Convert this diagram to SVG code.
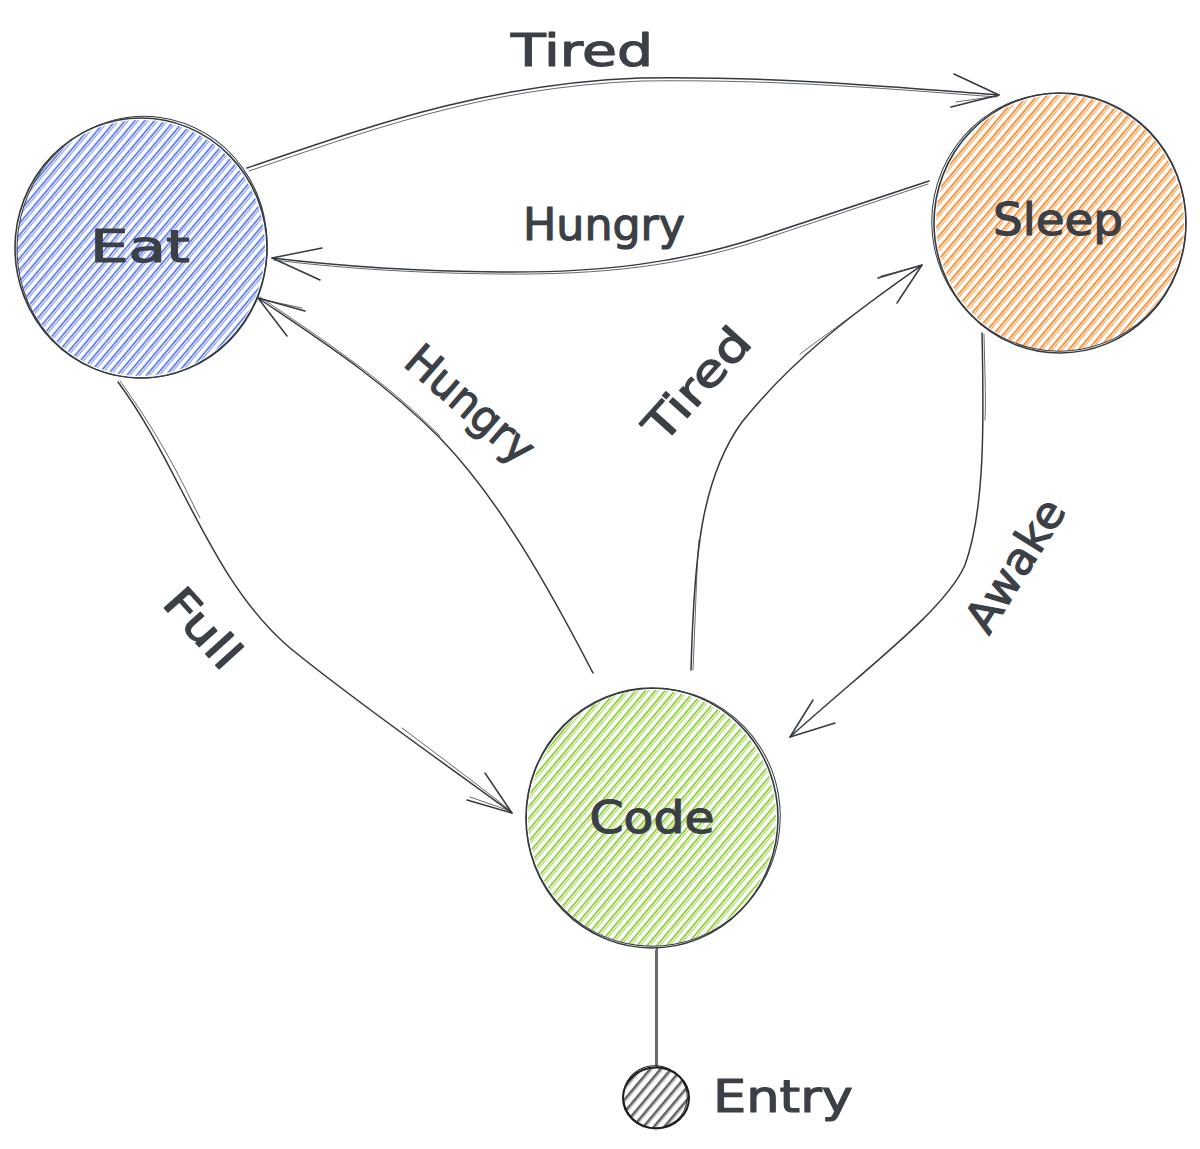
<svg xmlns="http://www.w3.org/2000/svg" width="1200" height="1149" viewBox="0 0 1200 1149">
<defs>
<style>
.o1{fill:none;stroke:#343a40;stroke-width:1.6}
.o2{fill:none;stroke:#343a40;stroke-width:1}
.ln{fill:none;stroke:#343a40;stroke-width:1.5;stroke-linecap:round;stroke-linejoin:round}
.ln2{fill:none;stroke:#343a40;stroke-width:0.9;stroke-linecap:round;stroke-linejoin:round;opacity:0.85}
.t{font-family:"DejaVu Sans","Liberation Sans",sans-serif;font-size:44px;fill:#3b4047;stroke:#3b4047;stroke-width:1.2;stroke-linejoin:round;text-anchor:middle}
.te{font-family:"DejaVu Sans","Liberation Sans",sans-serif;font-size:44px;fill:#3b4047;stroke:#3b4047;stroke-width:1.2;stroke-linejoin:round}
</style>
<pattern id="hBlue" patternUnits="userSpaceOnUse" width="7.5" height="20" patternTransform="rotate(40)">
<line x1="1" y1="0" x2="1" y2="20" stroke="#4c6ef5" stroke-width="1.6"/>
<line x1="3.4" y1="0" x2="3.4" y2="20" stroke="#4c6ef5" stroke-width="1" opacity="0.8"/>
</pattern>
<pattern id="hOrange" patternUnits="userSpaceOnUse" width="7.5" height="20" patternTransform="rotate(40)">
<line x1="1" y1="0" x2="1" y2="20" stroke="#fd7e14" stroke-width="1.6"/>
<line x1="3.4" y1="0" x2="3.4" y2="20" stroke="#fd7e14" stroke-width="1" opacity="0.8"/>
</pattern>
<pattern id="hGreen" patternUnits="userSpaceOnUse" width="7.5" height="20" patternTransform="rotate(40)">
<line x1="1" y1="0" x2="1" y2="20" stroke="#82c91e" stroke-width="1.6"/>
<line x1="3.4" y1="0" x2="3.4" y2="20" stroke="#82c91e" stroke-width="1" opacity="0.8"/>
</pattern>
<pattern id="hBlack" patternUnits="userSpaceOnUse" width="8" height="20" patternTransform="rotate(40)">
<line x1="1" y1="0" x2="1" y2="20" stroke="#1e1e1e" stroke-width="1.4"/>
<line x1="2.8" y1="0" x2="2.8" y2="20" stroke="#1e1e1e" stroke-width="0.8" opacity="0.7"/>
</pattern>
</defs>
<rect width="1200" height="1149" fill="#ffffff"/>

<g id="connectors">
<!-- Eat -> Sleep : Tired -->
<path class="ln" d="M247,168 C360,130 480,84 640,78 C780,76 900,88 999,95"/>
<path class="ln2" d="M249,171 C362,133 482,87 642,81 C782,79 902,90 997,97"/>
<path class="ln" d="M954,74 L999,95 L951,107"/>
<path class="ln2" d="M956,102 L998,96"/>
<!-- Sleep -> Eat : Hungry -->
<path class="ln" d="M929,181 L760,237 C680,263 600,273 500,272 C400,271 330,265 272,258"/>
<path class="ln2" d="M928,184 L761,240 C681,266 601,275 501,274 C401,273 331,267 274,260"/>
<path class="ln" d="M322,248 L272,258 L320,280"/>
<!-- Code -> Eat : Hungry -->
<path class="ln" d="M593,673 C550,590 500,500 440,438 C380,378 320,340 258,298"/>
<path class="ln2" d="M440,436 C380,376 320,338 260,297"/>
<path class="ln" d="M305,311 L258,298 L287,336"/>
<path class="ln2" d="M302,308 L260,299"/>
<!-- Eat -> Code : Full -->
<path class="ln" d="M118,382 C180,465 210,580 290,648 C360,705 440,760 512,813"/>
<path class="ln2" d="M120,381 C170,450 190,500 200,518"/>
<path class="ln2" d="M402,728 C442,758 482,788 511,811"/>
<path class="ln" d="M485,773 L512,813 L467,800"/>
<path class="ln2" d="M470,797 L510,811"/>
<!-- Code -> Sleep : Tired -->
<path class="ln" d="M691,670 C694,560 700,480 742,422 C790,362 850,315 922,265"/>
<path class="ln2" d="M693,670 C696,600 697,560 699,540"/>
<path class="ln2" d="M800,354 C850,317 880,295 920,267"/>
<path class="ln" d="M878,278 L922,265 L897,303"/>
<path class="ln2" d="M881,276 L920,266"/>
<!-- Sleep -> Code : Awake -->
<path class="ln" d="M982,333 C984,420 985,510 965,565 C945,610 870,665 790,737"/>
<path class="ln2" d="M984,334 C985,380 986,400 985,420"/>
<path class="ln" d="M813,700 L790,737 L835,723"/>
<!-- Code -> Entry -->
<path class="ln" d="M657,948 L657,1067"/>
<path class="ln2" d="M655.5,950 L655.5,1066"/>
</g>

<g id="label-tired-top"><text class="t" x="582" y="66" textLength="142" lengthAdjust="spacingAndGlyphs">Tired</text></g>
<g id="label-hungry-top"><text class="t" x="604" y="240" textLength="162" lengthAdjust="spacingAndGlyphs">Hungry</text></g>
<g id="label-hungry-diag" transform="translate(467,408) rotate(41)"><text class="t" x="0" y="10" textLength="155" lengthAdjust="spacingAndGlyphs">Hungry</text></g>
<g id="label-tired-diag" transform="translate(698,385) rotate(-48)"><text class="t" x="0" y="14" textLength="136" lengthAdjust="spacingAndGlyphs">Tired</text></g>
<g id="label-awake" transform="translate(1016,566) rotate(-58)"><text class="t" x="0" y="14" textLength="148" lengthAdjust="spacingAndGlyphs">Awake</text></g>
<g id="label-full" transform="translate(202,629) rotate(48)"><text class="t" x="0" y="14" textLength="92" lengthAdjust="spacingAndGlyphs">Full</text></g>

<g id="node-eat">
<ellipse cx="141" cy="248" rx="124" ry="128" fill="url(#hBlue)"/>
<ellipse class="o1" cx="141" cy="248" rx="126" ry="130"/>
<ellipse class="o2" cx="142" cy="247" rx="125" ry="131" transform="rotate(8 141 248)"/>
<text class="t" x="140" y="262" textLength="100" lengthAdjust="spacingAndGlyphs">Eat</text>
</g>

<g id="node-sleep">
<ellipse cx="1060" cy="223" rx="124" ry="128" fill="url(#hOrange)"/>
<ellipse class="o1" cx="1060" cy="223" rx="126" ry="130"/>
<ellipse class="o2" cx="1059" cy="222" rx="127" ry="129" transform="rotate(-10 1060 223)"/>
<text class="t" x="1058" y="235" textLength="130" lengthAdjust="spacingAndGlyphs">Sleep</text>
</g>

<g id="node-code">
<ellipse cx="652" cy="818" rx="124" ry="128" fill="url(#hGreen)"/>
<ellipse class="o1" cx="652" cy="818" rx="126" ry="130"/>
<ellipse class="o2" cx="653" cy="817" rx="127" ry="129" transform="rotate(12 652 818)"/>
<text class="t" x="652" y="833" textLength="125" lengthAdjust="spacingAndGlyphs">Code</text>
</g>

<g id="node-entry">
<ellipse cx="656" cy="1098" rx="32" ry="30" fill="url(#hBlack)"/>
<ellipse class="o1" cx="656" cy="1098" rx="33" ry="30.5" style="stroke:#1e1e1e;stroke-width:2"/>
<ellipse class="o2" cx="655" cy="1097" rx="32" ry="31" transform="rotate(15 656 1098)" style="stroke:#1e1e1e"/>
<text class="te" x="713" y="1112" textLength="140" lengthAdjust="spacingAndGlyphs">Entry</text>
</g>
</svg>
